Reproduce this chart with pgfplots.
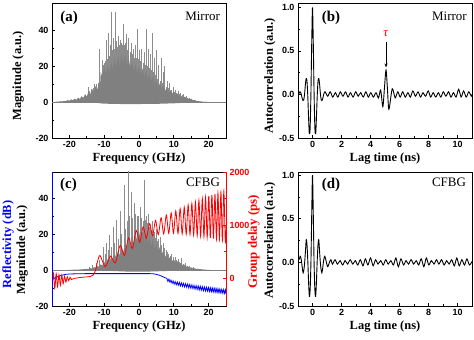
\documentclass[border=0pt]{standalone}
\usepackage{fontspec}
\setmainfont{Liberation Serif}
\newfontfamily\arialfont{Liberation Sans}
\usepackage{pgfplots}
\pgfplotsset{compat=1.18}
\usetikzlibrary{arrows.meta}
\definecolor{spec}{RGB}{128,128,128}
\definecolor{spike}{RGB}{140,140,140}
\newcommand\tickfont{\arialfont\bfseries\fontsize{9}{10}\selectfont}
\newcommand\labfont{\bfseries\fontsize{12.5}{14}\selectfont}
\newcommand\tagfont{\bfseries\fontsize{15}{17}\selectfont}
\newcommand\namefont{\fontsize{13}{15}\selectfont}
\pgfplotsset{
  myaxis/.style={
    scale only axis, width=174bp, anchor=south west,
    axis line style={line width=0.9bp},
    tick align=inside, xtick pos=left, ytick pos=left,
    major tick length=3bp, minor tick length=1.8bp,
    tick style={black, line width=0.7bp},
    tick label style={font=\tickfont},
    /pgf/number format/assume math mode=true,
    label style={font=\labfont},
  },
}
\pgfplotstableread{
x y
-24.5 0
-24.0 0.2
-23.5 0.4
-23.0 0.3
-22.5 0.6
-22.0 0.4
-21.5 0.8
-21.0 0.6
-20.5 1.2
-20.0 0.8
-19.5 1.6
-19.0 1.1
-18.5 2.0
-18.0 1.4
-17.5 2.6
-17.0 1.8
-16.5 3.4
-16.0 2.4
-15.5 4.5
-15.0 3.2
-14.5 6.0
-14.0 4.5
-13.5 7.5
-13.0 5.5
-12.5 9.0
-12.0 7.0
-11.5 11.0
-11.2 9.0
-11.0 17.0
-10.5 14.0
-10.0 20.0
-9.5 15.5
-9.0 21.0
-8.5 16.5
-8.0 23.0
-7.5 18.0
-7.0 25.0
-6.5 19.0
-6.0 26.0
-5.5 20.0
-5.0 27.0
-4.5 21.0
-4.0 27.5
-3.5 20.5
-3.0 25.5
-2.5 19.0
-2.0 23.0
-1.5 17.5
-1.0 21.5
-0.5 16.0
0.0 20.5
0.5 15.0
1.0 19.0
1.5 14.0
2.0 18.0
2.5 13.0
3.0 16.0
3.5 11.5
4.0 14.5
4.5 10.0
5.0 12.5
5.5 8.5
6.0 10.5
6.5 7.5
7.0 9.0
7.5 6.5
8.0 7.8
8.5 5.5
9.0 6.8
9.5 4.8
10.0 6.0
10.5 4.0
11.0 5.0
11.5 3.2
12.0 4.0
12.5 2.6
13.0 3.2
13.5 2.0
14.0 2.5
14.5 1.5
15.0 2.0
15.5 1.1
16.0 1.3
16.5 0.7
17.0 0.8
17.5 0.4
18.0 0.5
18.5 0.2
19.0 0.3
20.0 0.1
20.5 0
}\bodyA
\pgfplotstableread{
x y
-14.6 8.5
-14.25 6.5
-13.8 7.5
-13.25 8
-12.9 9.5
-12.75 10
-12.2 10
-11.75 11
-11.5 30
-10.6 23.5
-10.25 21
-10.0 22
-9.75 23
-9.5 35
-9.25 24
-8.8 39
-8.5 26
-8.3 32
-8.05 27
-7.85 50.5
-7.6 29
-7.4 36
-7.15 30
-6.9 50.5
-6.65 31
-6.4 34
-6.15 31
-5.9 37
-5.65 32
-5.4 35
-5.15 33
-4.8 32
-4.5 43.5
-4.25 32
-4.0 33
-3.8 30
-3.6 38
-3.3 29
-3.0 36
-2.6 28
-2.2 33
-1.9 27
-1.6 30
-1.3 25
-1.0 32
-0.7 25
-0.4 41
-0.1 24
0.2 29
0.5 23
0.8 30
1.1 22
1.4 28
1.8 21
2.2 41
2.5 20
2.8 30
3.05 19
3.3 27
3.55 18
3.8 39
4.1 17
4.4 25
4.75 15
5.0 29
5.3 13
5.6 21
6.0 12
6.5 24.5
6.75 10.5
7.0 17
7.2 10
7.4 20
7.75 8.5
8.1 12
8.4 8
8.8 10.5
9.25 7
9.8 8.5
10.1 6
10.5 7
10.85 5
11.2 6.5
11.6 4.5
12.0 5
12.4 3.8
12.8 4.5
13.2 3
13.6 3.5
14.0 2.6
14.5 2.5
15.0 2
15.5 1.5
}\spikeA
\pgfplotstableread{
x y
-20.5 0
-20.0 0.1
-19.0 0.15
-18.0 0.2
-17.0 0.3
-16.0 0.45
-15.5 0.5
-15.0 0.6
-14.5 0.6
-14.0 1.0
-13.5 0.9
-13.0 1.5
-12.5 1.4
-12.0 2.3
-11.5 1.8
-11.0 3.2
-10.5 2.5
-10.0 4.5
-9.5 3.4
-9.0 6.0
-8.5 4.4
-8.0 7.5
-7.5 5.5
-7.0 9.0
-6.5 6.8
-6.0 11.0
-5.5 8.2
-5.0 13.0
-4.5 9.8
-4.0 15.0
-3.5 11.5
-3.0 17.0
-2.5 13.0
-2.0 19.0
-1.5 14.5
-1.0 21.0
-0.5 15.5
0.0 22.0
0.5 16.0
1.0 22.0
1.5 15.5
2.0 21.0
2.5 14.5
3.0 19.0
3.5 13.0
4.0 17.0
4.5 11.5
5.0 15.0
5.5 10.0
6.0 13.0
6.5 8.5
7.0 11.0
7.5 7.2
8.0 9.0
8.5 6.0
9.0 7.5
9.5 5.0
10.0 6.0
10.5 4.0
11.0 5.0
11.5 3.3
12.0 4.0
12.5 2.6
13.0 3.0
13.5 1.9
14.0 2.2
14.5 1.3
15.0 1.5
15.5 0.9
16.0 1.0
16.5 0.6
17.0 0.6
18.0 0.4
19.0 0.2
20.0 0.1
20.5 0
}\bodyC
\pgfplotstableread{
x y
-14.3 1.8
-13.3 2.8
-12.3 4
-11.3 5.5
-10.3 12.6
-9.8 9
-9.3 15
-8.9 11
-8.4 19.4
-7.9 13
-7.4 24
-7.0 15
-6.5 28
-6.0 17
-5.5 33
-5.0 20
-4.3 47
-4.0 23
-3.5 27
-3.0 56
-2.7 30
-2.3 43.5
-1.8 29
-1.3 37
-1.0 31
-0.5 30
-0.2 30
0.3 35
0.6 29
0.8 28
1.1 27
1.4 50
1.7 28
2.0 30
2.3 26
2.6 31
2.9 24
3.2 25
3.5 22
3.9 27
4.2 20
4.5 21
4.8 18
5.0 23
5.3 16
5.6 17
6.0 18.5
6.5 14
7.0 15
7.4 12
7.9 11
8.2 10
8.5 9
8.9 8
9.3 9
9.8 7
10.3 7
10.8 5.5
11.2 6
11.7 4.5
12.2 6.5
12.7 3.5
13.2 4
14.5 2.5
15.5 1.8
}\spikeC
\pgfplotstableread{
x y
-25.0 -150
-24.6 100
-24.2 -190
-23.8 90
-23.4 -160
-23.0 70
-22.6 -130
-22.2 60
-21.8 -100
-21.4 40
-21.0 -70
-20.6 30
-20.2 -45
-19.8 20
-19.4 -20
-18.5 0
-17.0 15
-15.5 25
-14.0 35
-13.2 60
-12.5 150
-11.9 320
-11.2 430
-9.7 220
-8.2 420
-6.8 290
-5.4 620
-4.2 430
-3.0 760
-1.9 560
-0.8 900
0.2 680
1.2 970
2.1 750
3.05 1030
3.9 800
4.75 1090
5.55 820
6.35 1140
7.1 835
7.85 1190
8.55 845
9.25 1230
9.91 848
10.57 1270
11.2 845
11.82 1310
12.41 838
13.0 1340
13.56 830
14.12 1380
14.66 822
15.19 1410
15.7 812
16.22 1440
16.72 802
17.22 1470
17.7 792
18.19 1500
18.66 782
19.13 1530
19.59 770
20.05 1550
20.5 760
20.95 1570
21.39 748
21.83 1590
22.26 736
22.69 1610
23.11 724
23.54 1625
23.96 710
24.38 1640
24.8 695
25.1 1000
}\delayC
\pgfplotstableread{
x y
-25.0 -5.5
-24.0 -4.2
-23.0 -3.4
-22.0 -2.8
-21.0 -2.4
-20.0 -2.2
-15.0 -2.0
-10.0 -2.0
0.0 -2.0
3.0 -2.0
4.5 -2.2
6.0 -3.0
7.5 -4.3
8.0 -4.6
8.3 -6.3
8.6 -5.1
8.9 -6.8
9.2 -5.6
9.5 -7.4
9.8 -6.05
10.1 -7.85
10.4 -6.45
10.7 -8.2
11.0 -6.7
11.3 -8.45
11.6 -6.9
11.9 -8.85
12.2 -7.15
12.5 -9.05
12.8 -7.4
13.1 -9.3
13.4 -7.6
13.7 -9.55
14.0 -7.8
14.3 -9.9
14.6 -8.0
14.9 -10.1
15.2 -8.25
15.5 -10.35
15.8 -8.5
16.1 -10.6
16.4 -8.7
16.7 -10.8
17.0 -8.8
17.3 -11.1
17.6 -9.0
17.9 -11.3
18.2 -9.2
18.5 -11.5
18.8 -9.4
19.1 -11.7
19.4 -9.55
19.7 -11.85
20.0 -9.6
20.3 -12.1
20.6 -9.75
20.9 -12.25
21.2 -9.9
21.5 -12.4
21.8 -10.05
22.1 -12.55
22.4 -10.2
22.7 -12.7
23.0 -10.35
23.3 -12.85
23.6 -10.5
23.9 -13.0
24.2 -10.65
24.5 -13.15
24.8 -10.8
25.0 -13.3
}\reflC
\pgfplotstableread{
x y
-1.00 -0.02
-0.95 0.00
-0.88 0.03
-0.825 0.028
-0.77 0.00
-0.715 -0.042
-0.66 -0.07
-0.605 -0.064
-0.55 0.00
-0.495 0.106
-0.44 0.18
-0.385 0.16
-0.33 0.00
-0.275 -0.25
-0.22 -0.45
-0.165 -0.39
-0.11 0.00
-0.055 0.58
0.00 1.00
0.055 0.58
0.11 0.00
0.165 -0.39
0.22 -0.45
0.275 -0.25
0.33 0.00
0.385 0.16
0.44 0.18
0.495 0.106
0.55 0.00
0.605 -0.064
0.66 -0.07
0.715 -0.042
0.77 0.00
0.825 0.028
0.88 0.03
1.05 -0.02
1.22 0.03
1.40 -0.03
1.58 0.02
1.75 -0.03
1.92 0.03
2.10 -0.02
2.28 0.03
2.45 -0.03
2.62 0.02
2.80 -0.03
2.98 0.03
3.15 -0.02
3.32 0.02
3.50 -0.03
3.68 0.03
3.85 -0.03
4.02 0.02
4.20 -0.03
4.38 0.02
4.55 -0.04
4.70 0.05
4.85 -0.14
4.96 0.07
5.07 0.28
5.17 0.06
5.27 -0.17
5.50 0.065
5.70 -0.04
5.88 0.03
6.05 -0.03
6.22 0.03
6.40 -0.03
6.58 0.02
6.75 -0.03
6.92 0.04
7.10 -0.02
7.28 0.03
7.45 -0.03
7.62 0.02
7.80 -0.02
7.98 0.04
8.15 -0.03
8.32 0.02
8.50 -0.03
8.68 0.02
8.85 -0.03
9.02 0.03
9.20 -0.02
9.38 0.03
9.55 -0.03
9.72 0.02
9.90 -0.03
10.08 0.06
10.25 -0.03
10.42 0.04
10.60 -0.03
10.78 0.03
10.95 -0.02
11.00 0.00
}\acfB
\pgfplotstableread{
x y
-1.00 0.00
-0.96 0.035
-0.91 0.035
-0.85 0.07
-0.80 0.05
-0.75 0.00
-0.70 -0.07
-0.645 -0.12
-0.59 -0.08
-0.54 0.00
-0.485 0.13
-0.43 0.26
-0.375 0.19
-0.32 0.00
-0.27 -0.23
-0.215 -0.39
-0.162 -0.31
-0.108 0.00
-0.054 0.55
0.00 1.00
0.054 0.55
0.108 0.00
0.162 -0.31
0.215 -0.39
0.27 -0.23
0.32 0.00
0.375 0.19
0.43 0.26
0.485 0.13
0.54 0.00
0.59 -0.08
0.645 -0.12
0.70 -0.07
0.75 0.00
0.80 0.05
0.85 0.07
0.91 0.035
0.96 0.00
1.01 -0.035
1.06 -0.05
1.17 0.00
1.27 0.03
1.38 -0.02
1.55 0.03
1.72 -0.02
1.90 0.02
2.08 -0.03
2.25 0.02
2.42 -0.02
2.60 0.03
2.78 -0.02
2.95 0.02
3.12 -0.03
3.30 0.03
3.48 -0.04
3.65 0.04
3.82 -0.03
4.00 0.05
4.18 -0.04
4.35 0.03
4.52 -0.02
4.70 0.02
4.88 -0.03
5.05 0.03
5.22 -0.02
5.40 0.02
5.58 -0.03
5.75 0.05
5.92 -0.05
6.10 0.04
6.28 -0.03
6.45 0.02
6.62 -0.02
6.80 0.03
6.98 -0.02
7.15 0.02
7.32 -0.03
7.50 0.04
7.68 -0.05
7.85 0.05
8.02 -0.03
8.20 0.02
8.38 -0.02
8.55 0.03
8.72 -0.02
8.90 0.03
9.08 -0.03
9.25 0.02
9.42 -0.02
9.60 0.03
9.78 -0.04
9.95 0.05
10.12 -0.04
10.30 0.03
10.48 -0.03
10.65 0.04
10.82 -0.03
11.00 0.01
}\acfD
\begin{document}
\begin{tikzpicture}
\useasboundingbox (0bp,0bp) rectangle (474bp,340bp);
% ---------------- (a)
\begin{axis}[myaxis, at={(52bp,202bp)}, height=135bp,
  xmin=-25, xmax=25, ymin=-20, ymax=55.5,
  xtick={-20,-10,0,10,20}, ytick={-20,0,20,40},
  minor x tick num=1, minor y tick num=1,
  xlabel={Frequency (GHz)}, ylabel={Magnitude (a.u.)},
  xlabel style={at={(axis description cs:0.5,-0.15)}, anchor=center},
  ylabel style={at={(axis description cs:-0.195,0.46)}, anchor=center}]
\addplot[ycomb, spike, line width=0.6bp, mark=none] table[x=x,y=y] {\spikeA};
\addplot[draw=none, fill=spec] table[x=x,y=y] {\bodyA} -- cycle;
\addplot[draw=none, fill=spec] coordinates {(-13,0) (-12,-0.4) (-10,-0.8) (-5,-1) (0,-1) (5,-0.9) (10,-0.6) (13,-0.3) (14,0)} -- cycle;
\addplot[spec, line width=0.7bp] coordinates {(-25,0) (25,0)};
\node[font=\tagfont] at (axis description cs:0.098,0.89) {(a)};
\node[font=\namefont, anchor=east] at (axis description cs:0.985,0.905) {Mirror};
\end{axis}
% ---------------- (b)
\begin{axis}[myaxis, at={(298bp,202bp)}, height=135bp,
  xmin=-1, xmax=11, ymin=-0.5, ymax=1.05,
  xtick={0,2,4,6,8,10}, ytick={-0.5,0,0.5,1.0},
  minor x tick num=1, minor y tick num=1,
  yticklabel style={/pgf/number format/.cd, fixed, fixed zerofill, precision=1},
  xlabel={Lag time (ns)}, ylabel={Autocorrelation (a.u.)},
  xlabel style={at={(axis description cs:0.5,-0.15)}, anchor=center},
  ylabel style={at={(axis description cs:-0.161,0.46)}, anchor=center}]
\addplot[black, line width=0.9bp, smooth, tension=0.5, mark=none] table[x=x,y=y] {\acfB};
\draw[-{Stealth[length=4bp,width=3bp]}, line width=0.6bp] (axis cs:5.07,0.6) -- (axis cs:5.07,0.31);
\node[red, font=\fontsize{13}{15}\selectfont\itshape] at (axis cs:5.05,0.7) {τ};
\node[font=\tagfont] at (axis description cs:0.19,0.89) {(b)};
\node[font=\namefont, anchor=east] at (axis description cs:0.99,0.905) {Mirror};
\end{axis}
% ---------------- (c)
\begin{axis}[myaxis, at={(52bp,34bp)}, height=134bp,
  xmin=-25, xmax=25, ymin=-20, ymax=54.5,
  xtick={-20,-10,0,10,20}, ytick={-20,0,20,40},
  minor x tick num=1, minor y tick num=1,
  xlabel={Frequency (GHz)}, ylabel={Magnitude (a.u.)},
  xlabel style={at={(axis description cs:0.5,-0.154)}, anchor=center},
  ylabel style={at={(axis description cs:-0.172,0.42)}, anchor=center}]
\addplot[ycomb, spike, line width=0.6bp, mark=none] table[x=x,y=y] {\spikeC};
\addplot[draw=none, fill=spec] table[x=x,y=y] {\bodyC} -- cycle;
\addplot[draw=none, fill=spec] coordinates {(-11,0) (-8,-0.5) (-3,-0.9) (2,-0.9) (7,-0.6) (12,-0.3) (13,0)} -- cycle;
\addplot[spec, line width=0.7bp] coordinates {(-25,0) (25,0)};
\addplot[blue, line width=0.8bp, smooth, tension=0.4, mark=none] table[x=x,y=y] {\reflC};
\node[font=\tagfont] at (axis description cs:0.095,0.90) {(c)};
\node[font=\namefont, anchor=east] at (axis description cs:0.985,0.925) {CFBG};
\end{axis}
\begin{axis}[scale only axis, width=174bp, height=134bp, at={(52bp,34bp)}, anchor=south west,
  xmin=-25, xmax=25, ymin=-520, ymax=2000,
  axis x line=none, axis y line*=right,
  y axis line style={red, line width=1bp, -},
  ytick={0,1000,2000}, minor y tick num=1,
  tick align=inside, major tick length=3bp, minor tick length=1.8bp,
  ytick style={red, line width=0.7bp},
  yticklabel style={red, font=\tickfont},
  /pgf/number format/assume math mode=true,
  /pgf/number format/1000 sep={},
  clip mode=individual,
  ylabel={Group delay (ps)},
  ylabel style={red, font=\bfseries\fontsize{13}{15}\selectfont, at={(axis description cs:1.16,0.48)}, anchor=center}]
\addplot[red, line width=0.8bp, smooth, tension=0.5, mark=none] table[x=x,y=y] {\delayC};
\draw[blue, line width=1bp] (rel axis cs:0,0) -- (rel axis cs:0,1);
\node[blue, font=\labfont, rotate=90] at (axis description cs:-0.253,0.46) {Reflectivity (dB)};
\end{axis}
% ---------------- (d)
\begin{axis}[myaxis, at={(298bp,34bp)}, height=134bp,
  xmin=-1, xmax=11, ymin=-0.5, ymax=1.035,
  xtick={0,2,4,6,8,10}, ytick={-0.5,0,0.5,1.0},
  minor x tick num=1, minor y tick num=1,
  yticklabel style={/pgf/number format/.cd, fixed, fixed zerofill, precision=1},
  xlabel={Lag time (ns)}, ylabel={Autocorrelation (a.u.)},
  xlabel style={at={(axis description cs:0.5,-0.154)}, anchor=center},
  ylabel style={at={(axis description cs:-0.161,0.49)}, anchor=center}]
\addplot[black, line width=0.9bp, smooth, tension=0.5, mark=none] table[x=x,y=y] {\acfD};
\node[font=\tagfont] at (axis description cs:0.19,0.90) {(d)};
\node[font=\namefont, anchor=east] at (axis description cs:0.985,0.925) {CFBG};
\end{axis}
\end{tikzpicture}
\end{document}
